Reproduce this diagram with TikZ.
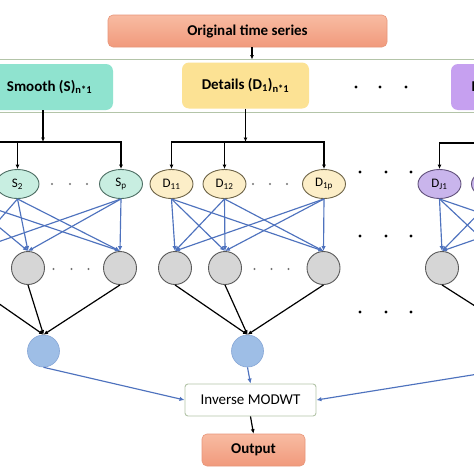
\documentclass[tikz,border=0pt]{standalone}
\usepackage{fontspec}
\setmainfont{Carlito}
\usetikzlibrary{arrows.meta,shapes.geometric}
\definecolor{salmonT}{HTML}{F8BBA2}
\definecolor{salmonB}{HTML}{F19A7C}
\definecolor{salmonD}{HTML}{E8967A}
\definecolor{mint}{HTML}{8FE3CF}
\definecolor{yel}{HTML}{FCE294}
\definecolor{purp}{HTML}{C6A0F0}
\definecolor{bandc}{HTML}{B3C4A8}
\definecolor{sfill}{HTML}{C8EEE1}
\definecolor{sdraw}{HTML}{4E6E64}
\definecolor{dfill}{HTML}{FCEEC8}
\definecolor{ddraw}{HTML}{6E6448}
\definecolor{jfill}{HTML}{C9B5EC}
\definecolor{jdraw}{HTML}{62527C}
\definecolor{gfill}{HTML}{D6D6D6}
\definecolor{gdraw}{HTML}{5A5A5A}
\definecolor{bfill}{HTML}{9EBEE6}
\definecolor{bdraw}{HTML}{86A6D6}
\definecolor{barc}{HTML}{4E72BE}
\tikzset{
  topbox/.style={rectangle, rounded corners=5pt, top color=salmonT, bottom color=salmonB, draw=salmonD, line width=0.6pt, minimum height=32pt, inner sep=0pt, font=\fontsize{15}{18}\selectfont\bfseries, text=black},
  bandbox/.style={rectangle, rounded corners=7pt, draw=none, minimum width=127pt, minimum height=46pt, inner sep=0pt, font=\fontsize{15}{18}\selectfont\bfseries},
  ell/.style={ellipse, minimum width=43pt, minimum height=29pt, inner sep=0pt, line width=0.9pt, font=\fontsize{13}{15}\selectfont},
  sell/.style={ell, fill=sfill, draw=sdraw},
  dell/.style={ell, fill=dfill, draw=ddraw},
  jell/.style={ell, fill=jfill, draw=jdraw},
  gcirc/.style={circle, minimum size=33pt, inner sep=0pt, fill=gfill, draw=gdraw, line width=0.9pt},
  bcirc/.style={circle, minimum size=32pt, inner sep=0pt, fill=bfill, draw=bdraw, line width=0.6pt},
  invbox/.style={rectangle, rounded corners=3pt, draw=bandc, fill=white, line width=0.9pt, minimum width=131pt, minimum height=32pt, inner sep=0pt, font=\fontsize{15}{18}\selectfont},
  karrow/.style={-{Latex[length=4.5pt,width=4pt]}, line width=1.2pt, black},
  barrow/.style={-{Latex[length=5pt,width=4.5pt]}, line width=1.15pt, barc},
  sdot/.style={fill=black!55},
  bdot/.style={fill=black}
}
\begin{document}
\begin{tikzpicture}[x=1pt,y=-1pt]
\useasboundingbox (0,0) rectangle (474,474);
\clip (0,0) rectangle (474,474);
\fill[white] (0,0) rectangle (474,474);

% top
\node[topbox, minimum width=279pt] (orig) at (247.5,31) {Original time series};
\draw[bandc, line width=1pt] (-20,59.5) rectangle (600,112);
\coordinate (tj) at (252,59.5);
\draw[karrow] (orig.south -| tj) -- (tj);

% band boxes
\node[bandbox, fill=mint] (smooth) at (49.5,87) {Smooth (S)\textsubscript{n*1}};
\node[bandbox, fill=yel] (details) at (245.5,85.5) {Details (D\textsubscript{1})\textsubscript{n*1}};
\node[bandbox, fill=purp] (detailsJ) at (514.5,87) {Details (D\textsubscript{J})\textsubscript{n*1}};
\foreach \x in {356,380,406} \fill[bdot] (\x,87) circle (1.7pt);

% ellipses
\node[sell] (S1) at (-35,184) {};
\node[sell] (S2) at (17.5,184) {S\textsubscript{2}};
\node[sell] (Sp) at (121,184) {S\textsubscript{p}};
\node[dell] (D11) at (171.5,184) {D\textsubscript{11}};
\node[dell] (D12) at (224.5,184) {D\textsubscript{12}};
\node[dell] (D1p) at (324,184) {D\textsubscript{1p}};
\node[jell] (DJ1) at (439.5,184) {D\textsubscript{J1}};
\node[jell] (DJ2) at (493,184) {};
\node[jell] (DJp) at (592,184) {};

% brackets
\coordinate (sj) at (43,142);
\coordinate (dj) at (245.5,142);
\coordinate (jj) at (514.5,143);
\draw[karrow] (smooth.south -| sj) -- (sj);
\draw[karrow] (sj) -| (Sp.north);
\draw[karrow] (sj) -| (S1.north);
\draw[karrow] (S2.north |- sj) -- (S2.north);
\draw[karrow] (details.south) -- (dj);
\draw[karrow] (dj) -| (D11.north);
\draw[karrow] (dj) -| (D1p.north);
\draw[karrow] (D12.north |- dj) -- (D12.north);
\draw[karrow] (detailsJ.south) -- (jj);
\draw[karrow] (jj) -| (DJ1.north);
\draw[karrow] (jj) -| (DJp.north);
\draw[karrow] (DJ2.north |- jj) -- (DJ2.north);

% grey circles
\node[gcirc] (c0) at (-28,268) {};
\node[gcirc] (c1) at (28,268) {};
\node[gcirc] (cp) at (120,268) {};
\node[gcirc] (cd1) at (175,268) {};
\node[gcirc] (cd2) at (225,268) {};
\node[gcirc] (cdp) at (323.5,268) {};
\node[gcirc] (cj1) at (442,268) {};
\node[gcirc] (cj2) at (495,268) {};
\node[gcirc] (cjp) at (592,268) {};

% blue fully connected arrows
\foreach \a in {S1,S2,Sp} \foreach \b in {c0,c1,cp} \draw[barrow] (\a.south) -- (\b.north);
\foreach \a in {D11,D12,D1p} \foreach \b in {cd1,cd2,cdp} \draw[barrow] (\a.south) -- (\b.north);
\foreach \a in {DJ1,DJ2,DJp} \foreach \b in {cj1,cj2,cjp} \draw[barrow] (\a.south) -- (\b.north);

% small dots
\foreach \x in {52,70,87,253,270,287} {
  \fill[sdot] (\x,184) circle (1.1pt);
  \fill[sdot] (\x+1.5,269) circle (1.1pt);
}
\foreach \x in {360,386,411} \foreach \y in {172,236,312} \fill[bdot] (\x,\y) circle (1.7pt);

% blue circles
\node[bcirc] (bs) at (43.5,351) {};
\node[bcirc] (bd) at (247.5,351) {};
\node[bcirc] (bj) at (520,351) {};
\foreach \c in {c0,c1,cp} \draw[karrow] (\c.south) -- (bs.north);
\foreach \c in {cd1,cd2,cdp} \draw[karrow] (\c.south) -- (bd.north);
\foreach \c in {cj1,cj2,cjp} \draw[karrow] (\c.south) -- (bj.north);

% inverse and output
\node[invbox] (inv) at (250.5,400) {Inverse MODWT};
\node[topbox, minimum width=103pt] (out) at (253.5,450) {Output};
\draw[barrow] (bs.south) -- (inv.west);
\draw[barrow] (bd.south) -- (inv.north);
\draw[barrow] (bj.south) -- (inv.east);
\draw[karrow] (inv.south) -- (out.north);
\end{tikzpicture}
\end{document}
